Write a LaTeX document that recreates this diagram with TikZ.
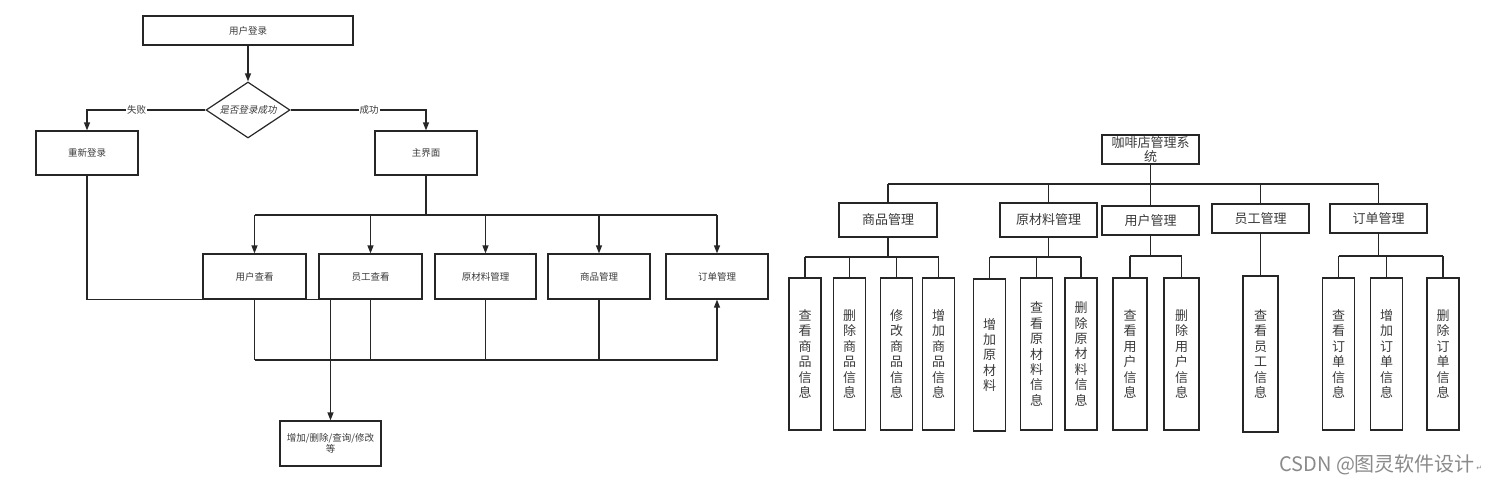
\documentclass[tikz,border=0pt]{standalone}
\usepackage{fontspec}
\setmainfont{Noto Sans CJK SC}
\newfontfamily\cjkit{Noto Sans CJK SC}[FakeSlant=0.2]
\newfontfamily\dvs{DejaVu Sans}
\usetikzlibrary{shapes.geometric,arrows.meta}
\definecolor{lcol}{HTML}{262626}
\definecolor{tcol}{HTML}{3a3a3a}
\definecolor{wcol}{HTML}{8a8a8a}
\begin{document}
\begin{tikzpicture}[x=1pt,y=-1pt,
  fbox/.style={draw=lcol,line width=1.2pt,rectangle,inner sep=0pt,text=tcol,
    font=\fontsize{9.5}{11}\selectfont,align=center},
  fdia/.style={draw=lcol,line width=1.2pt,diamond,aspect=1.5,inner sep=0pt,text=tcol,
    minimum width=84pt,minimum height=56pt,font=\cjkit\fontsize{9.5}{11}\selectfont},
  conn/.style={draw=lcol,line width=1.2pt},
  arr/.style={conn,-{Triangle[length=8pt,width=6pt]}},
  lbl/.style={fill=white,inner sep=1pt,text=tcol,font=\fontsize{9.5}{11}\selectfont},
  rbox/.style={draw=lcol,line width=1.4pt,rectangle,inner sep=0pt,text=tcol,
    font=\fontsize{13}{14}\selectfont,align=center},
  rconn/.style={draw=lcol,line width=1.4pt},
  leaf/.style={rbox,minimum width=32pt,minimum height=152pt,
    font=\fontsize{13}{15.4}\selectfont}
]
\useasboundingbox (0,0) rectangle (1486,485);

% ---------------- left flowchart ----------------
\node[fbox,minimum width=210pt,minimum height=29pt] (login) at (248,30.5) {用户登录};
\node[fdia] (dec) at (248,110) {是否登录成功};
\node[fbox,minimum width=102pt,minimum height=44pt] (relog) at (87,153) {重新登录};
\node[fbox,minimum width=102pt,minimum height=44pt] (mainui) at (426,153) {主界面};
\node[fbox,minimum width=103pt,minimum height=45pt] (uv) at (254.5,276.5) {用户查看};
\node[fbox,minimum width=103pt,minimum height=45pt] (ev) at (370.5,276.5) {员工查看};
\node[fbox,minimum width=101pt,minimum height=45pt] (rm) at (485.5,276.5) {原材料管理};
\node[fbox,minimum width=102pt,minimum height=45pt] (gm) at (599,276.5) {商品管理};
\node[fbox,minimum width=102pt,minimum height=45pt] (om) at (717,276.5) {订单管理};
\node[fbox,minimum width=101pt,minimum height=45pt] (crud) at (330.5,443.5) {增加/删除/查询/修改\\等};

\coordinate (bus) at (0,215);
\coordinate (bot) at (0,360);

\draw[arr] (login) -- (dec);
\draw[arr] (dec.west) -| node[lbl,pos=0.29]{失败} (relog.north);
\draw[arr] (dec.east) -| node[lbl,pos=0.29]{成功} (mainui.north);
\draw[conn] (mainui.south) -- (mainui.south |- bus);
\draw[conn] (uv |- bus) -- (om |- bus);
\foreach \n in {uv,ev,rm,gm,om} \draw[arr] (\n |- bus) -- (\n.north);
\draw[arr] (relog.south) |- (crud |- uv.south) -- (crud.north);
\foreach \n in {uv,ev,rm,gm} \draw[conn] (\n.south) -- (\n.south |- bot);
\draw[arr] (uv.south |- bot) -- (om.south |- bot) -- (om.south);

% ---------------- right hierarchy ----------------
\node[rbox,minimum width=97pt,minimum height=29pt] (sys) at (1150.5,149.5) {咖啡店管理系\\统};
\node[rbox,minimum width=98pt,minimum height=34pt] (m1) at (888,220) {商品管理};
\node[rbox,minimum width=97pt,minimum height=34pt] (m2) at (1048.5,220) {原材料管理};
\node[rbox,minimum width=97pt,minimum height=29pt] (m3) at (1150.5,220.5) {用户管理};
\node[rbox,minimum width=97pt,minimum height=29pt] (m4) at (1260.5,218.5) {员工管理};
\node[rbox,minimum width=97pt,minimum height=29pt] (m5) at (1378.5,218.5) {订单管理};

\node[leaf] (a1) at (805,354) {查\\看\\商\\品\\信\\息};
\node[leaf] (a2) at (849.5,354) {删\\除\\商\\品\\信\\息};
\node[leaf] (a3) at (896.5,354) {修\\改\\商\\品\\信\\息};
\node[leaf] (a4) at (938.5,354) {增\\加\\商\\品\\信\\息};
\node[leaf] (b1) at (989.5,355) {增\\加\\原\\材\\料};
\node[leaf] (b2) at (1036.5,354) {查\\看\\原\\材\\料\\信\\息};
\node[leaf] (b3) at (1081,354) {删\\除\\原\\材\\料\\信\\息};
\node[leaf,minimum width=34pt] (c1) at (1130,354) {查\\看\\用\\户\\信\\息};
\node[leaf,minimum width=35pt] (c2) at (1181.5,354) {删\\除\\用\\户\\信\\息};
\node[leaf,minimum width=35pt,minimum height=156pt] (d1) at (1260.5,354) {查\\看\\员\\工\\信\\息};
\node[leaf] (e1) at (1338.5,354) {查\\看\\订\\单\\信\\息};
\node[leaf] (e2) at (1386.5,354) {增\\加\\订\\单\\信\\息};
\node[leaf] (e3) at (1443,354) {删\\除\\订\\单\\信\\息};

\coordinate (rbus) at (0,184);
\coordinate (sba) at (0,257);
\coordinate (sbb) at (0,256);

\draw[rconn] (sys.south) -- (sys.south |- rbus);
\draw[rconn] (m1 |- rbus) -- (m5 |- rbus);
\foreach \n in {m1,m2,m3,m4,m5} \draw[rconn] (\n |- rbus) -- (\n.north);

\draw[rconn] (m1.south) -- (m1.south |- sba);
\draw[rconn] (a1 |- sba) -- (a4 |- sba);
\foreach \n in {a1,a2,a3,a4} \draw[rconn] (\n |- sba) -- (\n.north);

\draw[rconn] (m2.south) -- (m2.south |- sba);
\draw[rconn] (b1 |- sba) -- (b3 |- sba);
\foreach \n in {b1,b2,b3} \draw[rconn] (\n |- sba) -- (\n.north);

\draw[rconn] (m3.south) -- (m3.south |- sbb);
\draw[rconn] (c1 |- sbb) -- (c2 |- sbb);
\foreach \n in {c1,c2} \draw[rconn] (\n |- sbb) -- (\n.north);

\draw[rconn] (m4.south) -- (d1.north);

\draw[rconn] (m5.south) -- (m5.south |- sbb);
\draw[rconn] (e1 |- sbb) -- (e3 |- sbb);
\foreach \n in {e1,e2,e3} \draw[rconn] (\n |- sbb) -- (\n.north);

% ---------------- watermark ----------------
\node[anchor=west,inner sep=0pt,text=wcol,font=\fontsize{20}{22}\selectfont] (wm) at (1279,465) {CSDN @图灵软件设计};
\node[anchor=west,inner sep=0pt,text=wcol,font=\dvs\fontsize{7}{8}\selectfont] (ret) at ([xshift=1pt,yshift=-3pt]wm.east) {↵};
\end{tikzpicture}
\end{document}
